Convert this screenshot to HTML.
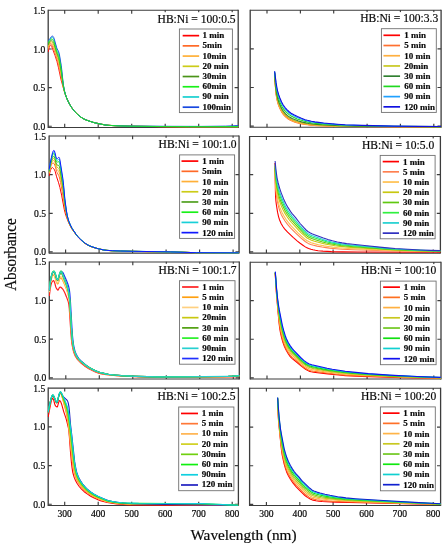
<!DOCTYPE html>
<html><head><meta charset="utf-8"><title>UV-vis absorbance spectra</title>
<style>html,body{margin:0;padding:0;background:#fff}svg{display:block}text{stroke:#0a0a0a;stroke-width:.2px}</style></head>
<body>
<svg width="448" height="550" viewBox="0 0 448 550" font-family="'Liberation Serif', serif">
<rect width="448" height="550" fill="#fff"/>
<g>
<clipPath id="c0"><rect x="47.7" y="10.1" width="191.1" height="117.9"/></clipPath>
<path d="M48.2,9.8V127.9M238.2,9.8V127.9" fill="none" stroke="#3c3c3c" stroke-width="1.3"/>
<path d="M48.2,10.3H238.2M48.2,127.4H238.2" fill="none" stroke="#3c3c3c" stroke-width="1.05"/>
<path d="M64.7,127.4v-3.6M64.7,10.1v3.6M98.2,127.4v-3.6M98.2,10.1v3.6M131.7,127.4v-3.6M131.7,10.1v3.6M165.2,127.4v-3.6M165.2,10.1v3.6M198.7,127.4v-3.6M198.7,10.1v3.6M232.2,127.4v-3.6M232.2,10.1v3.6M48.2,126.2h3.6M238.2,126.2h-3.6M48.2,87.6h3.6M238.2,87.6h-3.6M48.2,49.0h3.6M238.2,49.0h-3.6" stroke="#3c3c3c" stroke-width="1.15" fill="none"/>
<g clip-path="url(#c0)" fill="none" stroke-width="0.9" stroke-linejoin="round" stroke-linecap="butt">
<path d="M48.2,52.0L49.2,47.5L50.0,45.5L50.2,45.2L50.5,45.1L50.7,45.1L51.2,45.6L51.7,46.5L55.0,55.5L57.0,61.7L58.5,67.8L61.0,79.7L64.7,92.8L65.7,95.7L67.0,98.8L68.5,102.1L69.7,104.5L71.5,107.3L73.2,109.7L75.2,112.1L77.2,114.1L79.7,116.2L82.0,117.9L84.0,119.0L86.2,120.0L91.0,121.7L94.5,122.7L105.0,124.9L110.0,125.4L122.2,126.1L131.9,126.3L168.7,126.7L192.9,126.8L238.2,126.8" stroke="#ff0000"/>
<path d="M48.2,49.7L49.0,46.7L49.5,45.2L50.0,44.1L50.2,43.8L50.7,43.6L51.2,43.8L51.7,44.5L53.7,49.1L56.0,55.8L58.2,63.5L59.0,66.7L60.5,74.2L63.2,86.7L64.5,91.7L65.5,94.9L66.5,97.6L67.7,100.5L69.2,103.6L71.0,106.5L72.7,109.1L74.7,111.5L76.7,113.6L79.0,115.6L81.7,117.7L83.7,118.9L86.0,119.9L90.7,121.6L94.2,122.7L105.0,124.9L110.0,125.4L121.2,126.0L129.9,126.3L166.9,126.7L192.4,126.8L238.2,126.8" stroke="#ff6a28"/>
<path d="M48.2,48.0L49.0,45.4L49.5,44.0L50.0,43.1L50.2,42.8L50.7,42.5L51.2,42.5L51.7,43.0L52.7,44.7L53.7,46.9L55.5,52.1L58.0,60.2L58.7,62.9L61.5,76.6L63.5,87.4L64.5,91.6L65.5,94.8L66.5,97.6L67.7,100.5L69.0,103.1L70.5,105.7L72.5,108.7L74.5,111.2L76.5,113.4L78.7,115.4L81.5,117.5L83.5,118.8L85.7,119.8L90.5,121.5L94.2,122.7L104.7,124.9L106.5,125.1L109.7,125.4L120.2,126.0L129.7,126.3L165.2,126.6L191.7,126.7L238.2,126.7" stroke="#ffb038"/>
<path d="M48.2,46.3L49.0,44.1L49.7,42.4L50.2,41.7L51.0,41.2L51.5,41.3L52.2,42.0L53.2,43.6L54.0,45.4L56.7,54.3L58.2,58.6L59.0,61.4L61.5,74.4L63.5,87.0L64.5,91.4L65.2,94.0L66.2,96.9L67.5,100.0L68.7,102.6L70.2,105.3L72.2,108.4L74.0,110.7L76.2,113.1L78.5,115.2L81.2,117.3L83.2,118.6L85.5,119.7L90.2,121.4L94.2,122.7L104.7,124.9L109.5,125.4L119.2,125.9L129.4,126.2L163.4,126.6L190.9,126.7L238.2,126.7" stroke="#cccc18"/>
<path d="M48.2,44.9L49.0,43.0L49.7,41.6L50.5,40.6L51.2,40.1L51.5,40.1L52.0,40.4L52.7,41.1L53.5,42.4L54.0,43.6L56.7,52.7L58.5,57.4L59.0,59.3L61.2,71.2L63.2,85.1L64.2,90.3L65.0,93.1L66.0,96.2L67.2,99.4L68.5,102.1L70.0,104.9L72.0,108.0L73.7,110.4L76.0,112.9L78.0,114.8L80.7,117.0L83.0,118.5L85.2,119.6L89.0,121.0L94.0,122.6L96.2,123.1L104.5,124.9L106.0,125.1L109.0,125.4L118.0,125.8L129.2,126.2L160.9,126.5L190.2,126.7L238.2,126.7" stroke="#4a9418"/>
<path d="M48.2,41.7L49.5,39.9L51.0,38.0L51.5,37.5L52.0,37.3L52.5,37.3L53.0,37.6L53.2,37.9L53.7,38.8L54.2,40.3L56.7,49.0L57.2,50.3L58.2,52.2L58.7,53.5L59.5,56.8L61.2,66.9L63.2,84.1L64.0,88.7L64.7,92.0L65.7,95.4L67.0,98.8L68.2,101.6L69.7,104.5L71.7,107.7L73.5,110.0L75.7,112.6L77.7,114.6L80.5,116.8L82.7,118.3L85.0,119.5L87.5,120.5L91.5,121.9L94.2,122.7L96.5,123.2L105.5,125.0L109.2,125.4L114.7,125.7L128.2,126.2L154.7,126.4L187.7,126.6L238.2,126.6" stroke="#18d0d0"/>
<path d="M48.2,40.6L50.2,38.3L51.2,36.8L51.7,36.3L52.5,36.1L53.0,36.3L53.2,36.5L53.7,37.4L54.2,38.8L56.7,47.7L57.2,49.0L58.2,50.6L58.7,51.8L59.5,55.0L61.2,65.3L61.7,69.3L63.2,83.7L64.0,88.5L64.7,91.9L65.7,95.4L66.7,98.1L68.0,101.1L69.5,104.0L71.5,107.3L73.5,110.0L75.5,112.4L77.7,114.6L80.5,116.8L82.7,118.3L85.0,119.5L88.5,120.8L94.0,122.6L104.2,124.8L105.7,125.1L108.5,125.3L115.2,125.7L125.2,126.0L135.4,126.1L168.2,126.3L201.2,126.4L225.7,126.1L238.2,125.5" stroke="#1848e0"/>
<path d="M48.2,43.4L49.0,41.9L49.7,40.6L50.7,39.4L51.5,38.9L51.7,38.9L52.2,39.1L53.0,39.7L53.5,40.5L54.0,41.7L56.7,51.0L58.5,55.3L59.0,57.0L61.2,69.2L63.2,84.7L64.0,89.0L64.7,92.1L65.7,95.4L67.0,98.8L68.2,101.6L69.7,104.5L71.7,107.7L73.5,110.0L75.7,112.6L78.0,114.8L80.7,117.0L83.0,118.5L85.2,119.6L89.0,121.0L94.0,122.6L96.2,123.1L104.5,124.9L106.0,125.1L109.0,125.4L117.2,125.8L128.9,126.2L159.4,126.5L189.4,126.6L238.2,126.6" stroke="#18f018"/>
</g>
<text x="45.2" y="129.8" font-size="9.6" text-anchor="end" fill="#0a0a0a">0.0</text>
<text x="45.2" y="91.1" font-size="9.6" text-anchor="end" fill="#0a0a0a">0.5</text>
<text x="45.2" y="52.5" font-size="9.6" text-anchor="end" fill="#0a0a0a">1.0</text>
<text x="45.2" y="13.8" font-size="9.6" text-anchor="end" fill="#0a0a0a">1.5</text>
<rect x="156.3" y="12.2" width="80.3" height="14" fill="#fff"/>
<text x="235.6" y="22.7" font-size="11.55" text-anchor="end" fill="#0a0a0a">HB:Ni = 100:0.5</text>
<rect x="179.4" y="29.0" width="53.0" height="83.6" fill="#fff" stroke="#707070" stroke-width="0.9"/>
<path d="M182.65,35.65h16.5" stroke="#ff0000" stroke-width="1.7"/>
<text x="202.50" y="38.25" font-size="9" font-weight="bold" fill="#0a0a0a">1 min</text>
<path d="M182.65,45.87h16.5" stroke="#ff6a28" stroke-width="1.7"/>
<text x="202.50" y="48.45" font-size="9" font-weight="bold" fill="#0a0a0a">5min</text>
<path d="M182.65,56.09h16.5" stroke="#ffb038" stroke-width="1.7"/>
<text x="202.50" y="58.65" font-size="9" font-weight="bold" fill="#0a0a0a">10min</text>
<path d="M182.65,66.31h16.5" stroke="#cccc18" stroke-width="1.7"/>
<text x="202.50" y="68.85" font-size="9" font-weight="bold" fill="#0a0a0a">20 min</text>
<path d="M182.65,76.53h16.5" stroke="#4a9418" stroke-width="1.7"/>
<text x="202.50" y="79.05" font-size="9" font-weight="bold" fill="#0a0a0a">30min</text>
<path d="M182.65,86.75h16.5" stroke="#18f018" stroke-width="1.7"/>
<text x="202.50" y="89.25" font-size="9" font-weight="bold" fill="#0a0a0a">60min</text>
<path d="M182.65,96.97h16.5" stroke="#18d0d0" stroke-width="1.7"/>
<text x="202.50" y="99.45" font-size="9" font-weight="bold" fill="#0a0a0a">90 min</text>
<path d="M182.65,107.19h16.5" stroke="#1848e0" stroke-width="1.7"/>
<text x="202.50" y="109.65" font-size="9" font-weight="bold" fill="#0a0a0a">100min</text>
</g>
<g>
<clipPath id="c1"><rect x="48.6" y="135.75" width="191.1" height="117.9"/></clipPath>
<path d="M49.1,135.4V253.6M239.05,135.4V253.6" fill="none" stroke="#3c3c3c" stroke-width="1.3"/>
<path d="M49.1,135.9H239.05M49.1,253.1H239.05" fill="none" stroke="#3c3c3c" stroke-width="1.05"/>
<path d="M65.6,253.1v-3.6M65.6,135.75v3.6M99.1,253.1v-3.6M99.1,135.75v3.6M132.6,253.1v-3.6M132.6,135.75v3.6M166.1,253.1v-3.6M166.1,135.75v3.6M199.6,253.1v-3.6M199.6,135.75v3.6M233.1,253.1v-3.6M233.1,135.75v3.6M49.1,251.9h3.6M239.05,251.9h-3.6M49.1,213.3h3.6M239.05,213.3h-3.6M49.1,174.6h3.6M239.05,174.6h-3.6" stroke="#3c3c3c" stroke-width="1.15" fill="none"/>
<g clip-path="url(#c1)" fill="none" stroke-width="1.0" stroke-linejoin="round" stroke-linecap="butt">
<path d="M49.1,176.0L49.9,172.4L50.4,170.6L50.9,169.2L51.6,167.9L52.1,167.5L52.4,167.5L52.6,167.6L53.6,168.6L54.4,169.6L55.1,171.2L56.6,176.8L58.6,182.8L59.9,187.4L61.6,195.1L64.3,209.6L65.1,212.8L65.8,215.3L67.1,218.8L68.3,221.9L69.6,224.7L70.8,227.2L72.1,229.3L76.6,235.4L78.8,238.0L81.8,240.9L85.3,243.7L87.6,245.1L90.3,246.4L92.8,247.3L95.8,248.2L103.8,249.9L107.3,250.4L113.8,250.8L134.3,251.4L170.3,251.9L196.6,252.7L238.8,252.9" stroke="#ff0000"/>
<path d="M49.1,174.0L50.3,168.1L51.1,165.7L51.8,164.0L52.3,163.3L52.6,163.1L53.1,163.0L53.8,163.4L54.3,164.0L55.1,165.9L56.6,171.3L57.1,172.5L58.8,175.7L59.6,178.0L60.6,182.6L62.3,191.8L63.3,197.8L64.6,206.4L65.3,210.4L66.3,214.7L67.1,217.5L68.1,220.5L69.3,223.7L70.8,226.8L72.1,229.0L76.3,235.0L78.3,237.4L81.3,240.3L84.8,243.2L87.3,244.9L90.1,246.2L92.8,247.2L96.1,248.2L103.1,249.8L107.1,250.4L113.3,250.8L121.1,251.1L134.1,251.4L170.6,251.9L196.6,252.7L238.8,252.9" stroke="#ff6a28"/>
<path d="M49.1,173.1L50.4,166.9L51.1,164.2L51.9,162.1L52.4,161.1L52.6,160.8L53.1,160.5L53.6,160.5L53.9,160.6L54.4,161.2L54.9,162.4L56.1,167.1L56.6,168.6L57.1,169.5L58.4,171.0L58.9,171.8L59.4,173.0L59.9,174.9L62.6,189.7L63.4,194.6L64.6,204.2L65.6,210.0L67.1,216.9L68.1,220.2L69.1,222.8L70.9,226.6L72.1,228.9L76.4,234.9L78.1,237.0L81.1,240.1L84.6,243.0L87.1,244.7L89.9,246.1L92.6,247.1L96.1,248.2L98.6,248.8L102.9,249.8L107.1,250.4L113.1,250.8L121.1,251.1L134.1,251.4L170.6,251.9L196.6,252.7L238.9,252.9" stroke="#ffb038"/>
<path d="M49.1,172.3L49.9,168.2L50.6,164.8L51.4,162.2L52.1,160.0L52.6,159.0L52.9,158.7L53.4,158.3L53.9,158.4L54.4,158.9L54.9,160.2L56.1,165.0L56.6,166.4L57.1,167.2L58.4,168.1L58.9,168.6L59.4,169.7L59.9,171.5L61.9,182.5L62.9,188.5L64.8,204.2L65.8,210.2L66.6,214.1L67.3,217.3L68.1,219.9L69.1,222.6L70.8,226.5L72.1,228.8L76.3,234.8L77.8,236.7L80.8,239.8L84.3,242.7L87.1,244.7L89.8,246.0L92.6,247.1L96.3,248.2L98.6,248.8L102.6,249.7L106.8,250.4L113.1,250.8L121.1,251.1L134.1,251.4L170.6,251.9L196.6,252.7L238.8,252.9" stroke="#cccc18"/>
<path d="M49.1,171.6L49.9,167.4L50.6,163.9L51.4,161.0L52.1,158.6L52.6,157.4L53.1,156.6L53.4,156.4L53.6,156.3L53.9,156.3L54.1,156.5L54.4,156.9L54.9,158.2L56.1,163.0L56.6,164.4L57.1,165.0L58.4,165.4L58.9,165.7L59.4,166.6L59.9,168.5L62.9,186.0L63.6,191.8L64.8,202.7L66.1,210.7L66.8,214.7L67.3,216.9L68.1,219.6L69.1,222.4L70.6,225.8L72.1,228.7L76.3,234.8L77.8,236.7L80.8,239.8L84.3,242.7L87.1,244.6L89.6,245.9L92.1,246.9L96.1,248.2L98.6,248.8L101.8,249.6L106.6,250.4L112.6,250.8L120.6,251.0L133.8,251.4L170.6,251.9L196.3,252.7L238.8,252.9" stroke="#50a020"/>
<path d="M49.1,170.6L50.1,164.9L51.4,159.4L52.4,155.8L52.9,154.5L53.4,153.7L53.6,153.6L53.9,153.5L54.1,153.7L54.4,154.1L54.9,155.5L56.1,160.4L56.6,161.7L56.9,162.0L57.1,162.1L57.6,162.0L58.6,161.7L58.9,161.8L59.1,162.0L59.6,163.2L60.1,165.6L62.6,180.9L63.4,186.5L64.8,200.7L66.3,211.1L67.3,216.3L68.1,219.2L68.8,221.5L70.6,225.6L72.1,228.5L76.1,234.4L77.6,236.4L80.3,239.3L83.8,242.3L86.8,244.4L89.3,245.7L91.8,246.7L96.1,248.1L98.3,248.8L101.1,249.4L104.1,250.0L106.3,250.3L112.3,250.7L120.3,251.0L133.6,251.3L170.6,251.9L196.3,252.7L238.8,252.9" stroke="#18f018"/>
<path d="M49.1,170.0L50.1,164.2L51.4,158.4L52.6,153.7L53.1,152.5L53.4,152.2L53.6,151.9L53.9,151.9L54.1,152.0L54.4,152.4L54.9,153.9L55.9,158.0L56.4,159.5L56.6,160.0L56.9,160.3L57.1,160.3L57.6,160.1L58.6,159.4L58.9,159.4L59.1,159.5L59.4,160.0L59.6,160.7L60.1,163.2L62.9,180.6L63.6,186.9L64.8,199.5L66.3,210.5L67.3,216.0L68.1,219.0L68.8,221.3L70.3,224.9L72.1,228.4L76.1,234.4L77.6,236.3L80.3,239.2L83.8,242.2L86.8,244.4L89.3,245.7L91.8,246.7L96.1,248.1L98.3,248.8L101.1,249.4L104.1,250.0L106.3,250.3L112.3,250.7L120.3,251.0L133.6,251.3L170.6,251.9L196.3,252.7L238.8,252.9" stroke="#18d0d8"/>
<path d="M49.1,169.5L50.1,163.6L51.4,157.6L52.6,152.5L53.1,151.2L53.4,150.8L53.6,150.5L53.9,150.4L54.1,150.5L54.4,150.9L54.9,152.4L55.9,156.6L56.4,158.1L56.6,158.6L56.9,158.8L57.1,158.8L57.6,158.4L58.6,157.4L58.9,157.3L59.1,157.4L59.4,157.8L59.6,158.5L60.1,161.0L62.9,178.8L63.6,185.3L64.8,198.4L66.3,210.0L67.3,215.7L68.1,218.8L68.8,221.2L70.3,224.8L72.1,228.4L76.1,234.3L77.6,236.3L80.3,239.2L83.8,242.2L86.8,244.4L89.3,245.7L91.8,246.7L96.3,248.2L98.3,248.8L100.8,249.3L103.8,250.0L106.3,250.3L112.3,250.7L120.3,251.0L133.6,251.3L170.6,251.9L196.3,252.7L238.8,252.9" stroke="#1018ff"/>
</g>
<text x="46.1" y="255.4" font-size="9.6" text-anchor="end" fill="#0a0a0a">0.0</text>
<text x="46.1" y="216.8" font-size="9.6" text-anchor="end" fill="#0a0a0a">0.5</text>
<text x="46.1" y="178.1" font-size="9.6" text-anchor="end" fill="#0a0a0a">1.0</text>
<text x="46.1" y="139.5" font-size="9.6" text-anchor="end" fill="#0a0a0a">1.5</text>
<rect x="157.3" y="137.8" width="80.3" height="14" fill="#fff"/>
<text x="236.6" y="148.2" font-size="11.55" text-anchor="end" fill="#0a0a0a">HB:Ni = 100:1.0</text>
<rect x="179.6" y="154.9" width="55.0" height="83.5" fill="#fff" stroke="#707070" stroke-width="0.9"/>
<path d="M181.50,161.10h16.8" stroke="#ff0000" stroke-width="1.7"/>
<text x="202.25" y="164.15" font-size="9" font-weight="bold" fill="#0a0a0a">1 min</text>
<path d="M181.50,171.32h16.8" stroke="#ff6a28" stroke-width="1.7"/>
<text x="202.25" y="174.35" font-size="9" font-weight="bold" fill="#0a0a0a">5min</text>
<path d="M181.50,181.54h16.8" stroke="#ffb038" stroke-width="1.7"/>
<text x="202.25" y="184.55" font-size="9" font-weight="bold" fill="#0a0a0a">10 min</text>
<path d="M181.50,191.76h16.8" stroke="#cccc18" stroke-width="1.7"/>
<text x="202.25" y="194.75" font-size="9" font-weight="bold" fill="#0a0a0a">20 min</text>
<path d="M181.50,201.98h16.8" stroke="#50a020" stroke-width="1.7"/>
<text x="202.25" y="204.95" font-size="9" font-weight="bold" fill="#0a0a0a">30 min</text>
<path d="M181.50,212.20h16.8" stroke="#18f018" stroke-width="1.7"/>
<text x="202.25" y="215.15" font-size="9" font-weight="bold" fill="#0a0a0a">60 min</text>
<path d="M181.50,222.42h16.8" stroke="#18d0d8" stroke-width="1.7"/>
<text x="202.25" y="225.35" font-size="9" font-weight="bold" fill="#0a0a0a">90 min</text>
<path d="M181.50,232.64h16.8" stroke="#1018ff" stroke-width="1.7"/>
<text x="202.25" y="235.55" font-size="9" font-weight="bold" fill="#0a0a0a">120 min</text>
</g>
<g>
<clipPath id="c2"><rect x="48.8" y="261.7" width="191.1" height="117.8"/></clipPath>
<path d="M49.3,261.4V379.4M239.3,261.4V379.4" fill="none" stroke="#3c3c3c" stroke-width="1.3"/>
<path d="M49.3,261.9H239.3M49.3,378.9H239.3" fill="none" stroke="#3c3c3c" stroke-width="1.05"/>
<path d="M65.8,378.9v-3.6M65.8,261.7v3.6M99.3,378.9v-3.6M99.3,261.7v3.6M132.8,378.9v-3.6M132.8,261.7v3.6M166.3,378.9v-3.6M166.3,261.7v3.6M199.8,378.9v-3.6M199.8,261.7v3.6M233.3,378.9v-3.6M233.3,261.7v3.6M49.3,377.8h3.6M239.3,377.8h-3.6M49.3,339.1h3.6M239.3,339.1h-3.6M49.3,300.4h3.6M239.3,300.4h-3.6" stroke="#3c3c3c" stroke-width="1.15" fill="none"/>
<g clip-path="url(#c2)" fill="none" stroke-width="1.2" stroke-linejoin="round" stroke-linecap="butt">
<path d="M49.3,296.0L50.3,288.3L51.0,284.8L51.5,283.1L52.0,282.0L52.8,281.0L53.3,280.6L53.5,280.6L53.8,280.7L54.3,281.7L54.8,283.2L55.8,287.0L56.3,288.1L57.5,289.9L57.8,290.1L58.0,290.1L58.3,289.8L59.3,287.7L59.8,287.2L60.3,287.0L60.8,287.2L62.0,288.3L62.8,289.1L63.5,290.2L64.8,292.7L66.5,296.9L68.3,301.9L68.8,304.2L69.3,308.8L70.8,331.4L71.5,340.0L72.0,344.1L72.8,348.4L73.5,351.3L74.5,354.2L75.5,356.4L77.0,358.8L78.8,360.9L81.0,363.0L84.5,365.9L87.8,368.1L91.3,370.0L95.3,371.9L98.0,372.9L100.5,373.6L104.5,374.4L109.0,375.0L116.3,375.7L123.3,376.2L140.8,376.9L157.3,377.3L175.6,377.3L228.6,376.9L232.8,376.8L239.3,376.4" stroke="#ff2020"/>
<path d="M49.3,292.5L50.0,286.1L50.5,282.9L51.0,280.4L51.5,278.5L52.0,277.0L52.5,276.0L53.0,275.4L53.5,275.1L53.8,275.1L54.3,275.6L54.8,276.8L56.3,281.7L57.0,283.2L57.5,283.8L57.8,283.8L58.0,283.6L58.3,283.1L59.5,279.5L60.3,278.2L60.5,278.0L60.8,277.9L61.0,278.0L61.5,278.4L62.3,279.6L64.8,285.1L66.5,289.4L68.0,294.1L68.8,297.4L69.3,301.2L69.8,306.7L71.3,330.6L72.0,339.4L72.5,343.5L73.3,347.9L74.0,350.9L74.8,353.2L75.8,355.5L77.0,357.7L78.8,359.9L80.8,361.9L84.8,365.1L87.8,367.2L90.8,369.0L95.3,371.2L98.0,372.3L100.8,373.1L104.8,374.0L108.8,374.6L115.5,375.3L122.3,375.9L128.1,376.2L138.6,376.6L157.6,377.0L180.1,376.9L228.6,376.6L232.8,376.4L239.3,375.9" stroke="#ffa010"/>
<path d="M49.3,292.0L50.0,285.6L50.8,281.0L51.3,278.7L51.8,277.0L52.3,275.7L52.8,274.9L53.3,274.4L53.5,274.3L53.8,274.3L54.0,274.5L54.3,274.8L55.0,276.6L56.3,280.8L57.0,282.4L57.5,282.9L57.8,282.9L58.0,282.6L58.3,282.2L59.5,278.4L60.3,277.0L60.5,276.7L60.8,276.6L61.0,276.7L61.5,277.1L62.0,277.9L62.8,279.4L64.8,284.0L66.5,288.4L68.0,293.1L68.8,296.5L69.3,300.1L69.8,305.4L71.3,329.6L72.0,338.7L72.5,343.0L73.3,347.5L74.0,350.6L74.8,352.9L75.8,355.3L77.0,357.5L78.8,359.8L80.8,361.8L84.8,365.0L88.0,367.3L91.0,369.0L95.3,371.1L98.0,372.2L100.8,373.0L104.8,373.9L108.8,374.6L115.5,375.3L122.3,375.8L127.8,376.1L138.3,376.5L157.6,376.9L181.1,376.9L228.6,376.5L232.8,376.3L239.3,375.9" stroke="#ffd080"/>
<path d="M49.3,290.7L50.0,284.1L50.8,279.4L51.8,275.2L52.3,273.8L52.8,272.9L53.3,272.4L53.8,272.2L54.0,272.3L54.3,272.5L54.5,272.9L55.3,274.9L56.5,279.1L57.0,280.1L57.3,280.4L57.5,280.6L57.8,280.5L58.3,279.6L59.5,275.4L60.3,273.6L60.8,273.1L61.0,273.1L61.3,273.3L61.8,274.0L62.5,275.5L65.5,282.9L66.8,286.3L68.0,290.5L68.5,292.6L69.0,295.4L69.5,299.3L70.0,305.0L71.3,327.0L71.8,334.1L72.3,339.5L72.8,343.5L73.3,346.5L74.0,349.9L74.8,352.3L75.8,354.8L77.0,357.1L78.5,359.1L80.5,361.2L84.5,364.5L87.8,366.8L90.8,368.6L95.0,370.7L97.8,371.8L100.5,372.7L104.5,373.7L108.3,374.4L114.5,375.1L121.3,375.6L127.3,376.0L136.3,376.3L147.3,376.7L156.8,376.8L180.6,376.8L228.3,376.4L232.6,376.2L239.3,375.7" stroke="#c8c810"/>
<path d="M49.3,290.5L50.0,283.8L50.8,279.0L51.8,274.7L52.3,273.2L52.8,272.3L53.3,271.8L53.8,271.5L54.0,271.6L54.3,271.8L54.5,272.1L55.3,274.0L56.5,278.3L57.0,279.3L57.3,279.6L57.5,279.7L57.8,279.6L58.3,278.7L59.8,273.5L60.5,271.7L60.8,271.4L61.0,271.3L61.5,271.4L62.5,272.2L63.3,273.2L66.5,280.5L67.5,283.0L68.5,286.0L69.3,289.4L69.8,293.4L70.3,299.3L71.8,325.6L72.5,336.0L73.0,340.8L73.5,344.5L74.3,348.5L75.0,351.2L76.0,353.9L77.3,356.4L78.8,358.6L80.5,360.5L85.5,364.7L88.5,367.0L91.0,368.6L95.0,370.6L98.0,371.8L100.8,372.7L104.8,373.7L108.5,374.3L114.8,375.0L121.3,375.6L127.0,375.9L136.1,376.3L147.3,376.6L157.1,376.8L182.1,376.7L215.3,376.5L228.3,376.3L232.6,376.1L239.3,375.6" stroke="#2030ff"/>
<path d="M49.3,290.4L50.0,283.8L50.8,279.0L51.8,274.8L52.3,273.3L52.8,272.5L53.3,271.9L53.8,271.7L54.0,271.8L54.3,272.0L54.5,272.4L55.3,274.3L56.5,278.5L57.0,279.6L57.3,279.9L57.5,280.1L57.8,280.0L58.3,279.1L59.5,274.8L60.3,272.9L60.8,272.3L61.0,272.3L61.3,272.5L61.8,273.2L62.5,274.8L63.8,278.1L65.3,281.7L67.0,286.4L68.3,290.9L69.0,294.8L69.5,298.6L70.0,304.1L71.3,326.4L71.8,333.6L72.3,339.1L72.8,343.2L73.3,346.3L74.0,349.7L74.8,352.1L75.8,354.7L77.0,357.0L78.5,359.0L80.5,361.1L84.5,364.4L87.8,366.7L90.8,368.5L95.0,370.6L97.8,371.8L100.5,372.7L104.5,373.7L108.3,374.3L114.5,375.0L121.3,375.6L127.0,376.0L136.1,376.3L147.1,376.6L156.8,376.8L180.8,376.8L228.3,376.4L232.6,376.2L239.3,375.7" stroke="#50a010"/>
<path d="M49.3,290.0L50.0,283.3L50.8,278.5L51.8,274.2L52.3,272.7L52.8,271.8L53.3,271.3L53.8,271.0L54.0,271.1L54.3,271.3L54.5,271.6L55.3,273.5L56.5,277.8L57.0,278.9L57.3,279.2L57.5,279.3L57.8,279.2L58.3,278.2L59.5,273.8L60.3,271.8L60.8,271.2L61.0,271.1L61.3,271.3L61.8,272.1L62.5,273.7L63.8,277.1L65.5,281.4L67.0,285.5L68.3,290.1L69.0,293.9L69.5,297.5L70.0,302.9L71.3,325.5L71.8,333.0L72.3,338.6L72.8,342.8L73.3,346.0L74.0,349.5L74.8,351.9L75.8,354.5L77.0,356.8L78.5,358.9L80.5,361.0L84.8,364.5L88.0,366.8L90.8,368.4L95.0,370.5L98.0,371.8L100.8,372.7L104.8,373.7L108.3,374.3L114.5,375.0L121.0,375.6L127.0,375.9L135.8,376.3L147.1,376.6L156.8,376.8L181.6,376.7L215.1,376.5L228.3,376.3L232.6,376.1L239.3,375.6" stroke="#28f028"/>
<path d="M49.3,290.2L50.0,283.6L50.8,278.8L51.8,274.5L52.3,273.1L52.8,272.2L53.3,271.7L53.8,271.4L54.0,271.5L54.3,271.7L54.5,272.1L55.3,273.9L56.5,278.2L57.0,279.3L57.3,279.6L57.5,279.7L57.8,279.6L58.3,278.7L59.5,274.4L60.3,272.4L60.8,271.8L61.0,271.8L61.3,272.0L61.8,272.7L62.5,274.3L63.8,277.7L65.5,281.9L67.0,286.0L68.3,290.5L69.0,294.4L69.5,298.1L70.0,303.6L71.3,326.0L71.8,333.3L72.3,338.9L72.8,343.0L73.3,346.2L74.0,349.6L74.8,352.0L75.8,354.6L77.0,356.9L78.5,359.0L80.5,361.1L84.8,364.5L88.0,366.9L90.8,368.5L95.0,370.6L98.0,371.8L100.8,372.7L104.8,373.7L108.3,374.3L114.5,375.0L121.0,375.6L127.0,375.9L135.8,376.3L147.1,376.6L156.8,376.8L180.8,376.8L228.3,376.3L232.6,376.2L239.3,375.6" stroke="#28d0d0"/>
</g>
<text x="46.3" y="381.2" font-size="9.6" text-anchor="end" fill="#0a0a0a">0.0</text>
<text x="46.3" y="342.6" font-size="9.6" text-anchor="end" fill="#0a0a0a">0.5</text>
<text x="46.3" y="303.9" font-size="9.6" text-anchor="end" fill="#0a0a0a">1.0</text>
<text x="46.3" y="265.3" font-size="9.6" text-anchor="end" fill="#0a0a0a">1.5</text>
<rect x="157.3" y="263.8" width="80.3" height="14" fill="#fff"/>
<text x="236.6" y="273.8" font-size="11.55" text-anchor="end" fill="#0a0a0a">HB:Ni = 100:1.7</text>
<rect x="179.5" y="280.7" width="55.5" height="83.5" fill="#fff" stroke="#707070" stroke-width="0.9"/>
<path d="M182.10,287.00h16.4" stroke="#ff2020" stroke-width="1.7"/>
<text x="202.20" y="289.75" font-size="9" font-weight="bold" fill="#0a0a0a">1 min</text>
<path d="M182.10,297.22h16.4" stroke="#ffa010" stroke-width="1.7"/>
<text x="202.20" y="299.95" font-size="9" font-weight="bold" fill="#0a0a0a">5 min</text>
<path d="M182.10,307.44h16.4" stroke="#ffd080" stroke-width="1.7"/>
<text x="202.20" y="310.15" font-size="9" font-weight="bold" fill="#0a0a0a">10 min</text>
<path d="M182.10,317.66h16.4" stroke="#c8c810" stroke-width="1.7"/>
<text x="202.20" y="320.35" font-size="9" font-weight="bold" fill="#0a0a0a">20min</text>
<path d="M182.10,327.88h16.4" stroke="#50a010" stroke-width="1.7"/>
<text x="202.20" y="330.55" font-size="9" font-weight="bold" fill="#0a0a0a">30 min</text>
<path d="M182.10,338.10h16.4" stroke="#28f028" stroke-width="1.7"/>
<text x="202.20" y="340.75" font-size="9" font-weight="bold" fill="#0a0a0a">60 min</text>
<path d="M182.10,348.32h16.4" stroke="#28d0d0" stroke-width="1.7"/>
<text x="202.20" y="350.95" font-size="9" font-weight="bold" fill="#0a0a0a">90min</text>
<path d="M182.10,358.54h16.4" stroke="#2030ff" stroke-width="1.7"/>
<text x="202.20" y="361.15" font-size="9" font-weight="bold" fill="#0a0a0a">120 min</text>
</g>
<g>
<clipPath id="c3"><rect x="47.7" y="387.9" width="191.3" height="118.1"/></clipPath>
<path d="M48.2,387.6V505.9M238.4,387.6V505.9" fill="none" stroke="#3c3c3c" stroke-width="1.3"/>
<path d="M48.2,388.1H238.4M48.2,505.4H238.4" fill="none" stroke="#3c3c3c" stroke-width="1.05"/>
<path d="M64.7,505.4v-3.6M64.7,387.9v3.6M98.2,505.4v-3.6M98.2,387.9v3.6M131.7,505.4v-3.6M131.7,387.9v3.6M165.2,505.4v-3.6M165.2,387.9v3.6M198.7,505.4v-3.6M198.7,387.9v3.6M232.2,505.4v-3.6M232.2,387.9v3.6M48.2,504.2h3.6M238.4,504.2h-3.6M48.2,465.6h3.6M238.4,465.6h-3.6M48.2,426.9h3.6M238.4,426.9h-3.6" stroke="#3c3c3c" stroke-width="1.15" fill="none"/>
<g clip-path="url(#c3)" fill="none" stroke-width="1.1" stroke-linejoin="round" stroke-linecap="butt">
<path d="M48.2,417.0L49.5,409.8L51.0,402.4L51.5,400.4L51.7,399.7L52.2,398.7L52.5,398.5L52.7,398.4L53.0,398.6L53.2,399.0L53.7,400.2L54.7,404.0L55.2,405.4L55.7,406.1L57.0,407.0L57.2,407.0L57.5,406.6L58.7,402.2L59.2,401.0L59.5,400.7L59.7,400.6L60.0,400.8L60.7,401.8L61.7,404.4L63.7,411.6L66.0,418.4L67.0,422.1L68.5,428.4L69.0,431.8L69.2,434.4L70.5,452.2L71.5,463.4L72.0,467.4L72.7,472.0L73.5,475.1L74.2,477.4L75.5,480.5L77.0,483.3L79.2,486.5L81.5,489.1L84.2,491.7L87.5,494.1L90.7,496.2L94.2,498.0L98.0,499.7L101.2,500.9L104.2,501.8L107.2,502.5L111.7,503.3L116.5,503.9L123.7,504.5L129.2,504.9L133.9,505.0L165.4,505.2L238.2,505.3" stroke="#ff0000"/>
<path d="M48.2,413.0L49.5,406.2L50.5,401.7L51.5,398.0L52.2,396.5L52.7,396.0L53.0,396.0L53.5,396.5L54.0,397.4L56.0,402.1L56.5,402.9L56.7,403.0L57.0,402.9L57.2,402.6L57.5,401.9L58.7,396.8L59.5,394.3L60.0,393.4L60.2,393.3L60.5,393.3L61.0,394.0L61.5,395.1L62.2,397.4L65.2,408.6L66.2,412.6L67.0,416.4L68.0,422.7L68.7,428.5L71.2,452.5L72.2,461.0L73.0,465.9L73.7,469.9L74.5,473.3L75.2,476.0L76.5,479.4L77.7,481.8L80.0,485.2L82.5,488.3L85.0,490.7L88.5,493.5L91.5,495.5L94.7,497.2L98.2,498.8L101.5,500.1L105.0,501.3L108.0,502.1L112.2,502.8L117.5,503.4L121.7,503.8L127.2,504.2L131.9,504.4L136.4,504.5L200.7,504.7L238.2,505.3" stroke="#ff7838"/>
<path d="M48.2,412.9L49.5,406.1L50.5,401.6L51.5,397.9L52.2,396.3L52.7,395.8L53.0,395.8L53.5,396.3L54.0,397.2L56.0,402.0L56.5,402.7L56.7,402.9L57.0,402.8L57.2,402.5L57.5,401.8L58.7,396.6L59.5,394.1L60.0,393.2L60.2,393.1L60.5,393.1L61.0,393.7L61.5,394.8L62.2,397.0L65.5,408.4L66.5,412.4L67.2,416.2L68.0,420.8L68.7,426.3L71.5,451.8L72.7,461.7L74.2,470.5L75.0,473.7L75.7,476.2L77.0,479.5L78.5,482.2L80.7,485.6L83.0,488.3L85.7,490.8L89.0,493.4L92.0,495.3L95.2,497.1L98.5,498.6L101.7,499.9L105.2,501.1L108.0,501.8L112.0,502.5L116.7,503.2L121.2,503.6L126.0,503.9L131.9,504.2L137.9,504.3L202.2,504.6L238.2,505.3" stroke="#ffb450"/>
<path d="M48.2,412.6L49.5,405.8L50.5,401.3L51.5,397.6L52.2,396.0L52.7,395.6L53.0,395.6L53.5,396.0L54.0,397.0L56.0,401.7L56.5,402.5L56.7,402.7L57.0,402.6L57.2,402.2L57.5,401.6L58.7,396.3L59.5,393.8L60.0,392.9L60.2,392.7L60.5,392.7L61.0,393.2L61.5,394.2L62.0,395.5L65.5,406.5L66.5,410.1L67.5,414.7L68.2,419.1L69.0,424.6L72.0,451.1L73.2,461.0L74.0,466.0L74.7,470.2L75.5,473.3L76.2,475.8L77.5,479.0L79.2,482.2L81.2,485.1L83.5,487.8L86.2,490.4L89.2,492.8L92.5,495.0L96.2,496.9L99.2,498.3L102.2,499.5L105.7,500.8L108.2,501.5L111.7,502.2L115.7,502.8L119.7,503.2L123.5,503.5L131.2,503.9L137.9,504.0L202.2,504.3L238.2,505.2" stroke="#d0d020"/>
<path d="M48.2,412.3L49.5,405.6L50.5,401.1L51.5,397.4L52.2,395.8L52.7,395.3L53.0,395.3L53.5,395.8L54.0,396.7L56.0,401.5L56.5,402.3L56.7,402.5L57.0,402.4L57.2,402.0L57.5,401.3L59.0,395.1L59.7,393.0L60.2,392.4L60.5,392.3L60.7,392.5L61.2,393.1L62.2,395.5L66.0,406.1L67.0,409.6L68.0,414.2L68.7,418.9L69.2,422.8L72.7,452.9L74.0,462.8L74.5,466.1L75.2,470.0L76.0,473.1L76.7,475.6L78.2,479.1L80.0,482.2L82.0,485.0L84.5,487.9L87.2,490.5L90.0,492.7L93.2,494.7L97.0,496.7L100.0,498.1L103.7,499.6L106.2,500.6L108.2,501.2L111.5,501.8L115.5,502.4L119.2,502.9L123.0,503.2L131.2,503.6L138.2,503.7L201.9,504.0L229.9,505.0L238.2,505.2" stroke="#70d010"/>
<path d="M48.2,412.5L49.5,405.7L51.0,399.2L51.7,396.9L52.2,395.9L52.7,395.4L53.0,395.4L53.2,395.6L53.7,396.4L56.2,402.2L56.5,402.5L56.7,402.7L57.0,402.6L57.2,402.3L57.5,401.6L58.7,396.2L59.5,393.5L59.7,393.0L60.2,392.3L60.5,392.2L60.7,392.3L61.2,392.9L62.7,395.8L63.5,396.9L66.2,399.3L67.0,400.2L67.5,400.9L68.0,402.1L68.2,402.9L68.7,405.4L69.0,407.1L69.5,412.1L70.5,424.2L71.7,434.2L74.0,455.6L74.7,461.9L75.2,465.1L76.0,469.1L76.5,471.3L77.2,473.8L78.7,477.6L80.5,480.8L82.7,484.1L85.5,487.4L88.0,489.8L90.7,492.0L94.2,494.2L98.2,496.4L105.5,499.6L107.5,500.3L109.2,500.9L113.5,501.7L117.7,502.4L121.7,502.8L126.5,503.2L133.2,503.6L143.4,503.9L165.9,504.5L206.2,505.0L238.2,505.2" stroke="#2020c0"/>
<path d="M48.2,412.1L49.5,405.3L50.5,400.8L51.5,397.1L52.2,395.5L52.7,395.0L53.0,395.0L53.5,395.5L54.0,396.5L56.0,401.3L56.5,402.1L56.7,402.3L57.0,402.2L57.2,401.8L57.5,401.1L58.7,395.8L59.5,393.2L60.0,392.3L60.2,392.0L60.5,391.9L60.7,392.0L61.2,392.6L62.2,394.8L66.2,404.6L67.2,407.8L68.2,412.2L69.0,417.0L70.2,427.3L71.2,434.5L73.5,455.3L74.5,463.4L75.0,466.4L75.7,470.1L76.2,472.2L77.0,474.6L78.5,478.2L80.2,481.4L82.5,484.6L85.0,487.5L87.5,489.9L90.2,492.1L93.7,494.4L97.5,496.4L100.5,497.8L105.0,499.7L107.0,500.4L108.5,500.9L112.0,501.6L115.7,502.2L119.2,502.6L122.7,502.9L130.9,503.2L138.7,503.4L201.9,503.7L216.2,504.2L229.9,504.9L238.2,505.2" stroke="#10f010"/>
<path d="M48.2,412.0L49.5,405.2L50.5,400.7L51.5,397.0L52.2,395.4L52.7,394.9L53.0,394.9L53.5,395.4L54.0,396.4L56.0,401.2L56.5,402.0L56.7,402.2L57.0,402.1L57.2,401.8L57.5,401.1L58.7,395.7L59.5,393.1L60.0,392.2L60.2,391.9L60.5,391.8L60.7,391.9L61.2,392.4L62.0,393.9L65.0,400.7L66.5,404.4L67.5,407.5L68.2,410.9L69.0,415.4L70.2,425.6L71.2,432.4L73.7,456.1L74.5,462.2L75.0,465.4L75.7,469.3L76.2,471.5L77.0,474.0L78.5,477.7L80.2,480.9L82.5,484.2L85.2,487.4L87.7,489.8L90.5,492.0L94.0,494.3L97.7,496.3L105.0,499.5L107.0,500.3L108.5,500.7L111.7,501.4L115.5,502.0L119.0,502.4L122.5,502.7L130.9,503.1L138.7,503.3L201.9,503.5L216.2,504.2L229.9,504.9L238.2,505.2" stroke="#10d0e0"/>
</g>
<text x="45.2" y="507.8" font-size="9.6" text-anchor="end" fill="#0a0a0a">0.0</text>
<text x="45.2" y="469.1" font-size="9.6" text-anchor="end" fill="#0a0a0a">0.5</text>
<text x="45.2" y="430.4" font-size="9.6" text-anchor="end" fill="#0a0a0a">1.0</text>
<text x="45.2" y="391.8" font-size="9.6" text-anchor="end" fill="#0a0a0a">1.5</text>
<text x="64.7" y="517.3" font-size="9.6" text-anchor="middle" fill="#0a0a0a">300</text>
<text x="98.2" y="517.3" font-size="9.6" text-anchor="middle" fill="#0a0a0a">400</text>
<text x="131.7" y="517.3" font-size="9.6" text-anchor="middle" fill="#0a0a0a">500</text>
<text x="165.2" y="517.3" font-size="9.6" text-anchor="middle" fill="#0a0a0a">600</text>
<text x="198.7" y="517.3" font-size="9.6" text-anchor="middle" fill="#0a0a0a">700</text>
<text x="232.2" y="517.3" font-size="9.6" text-anchor="middle" fill="#0a0a0a">800</text>
<rect x="156.3" y="390.0" width="80.3" height="14" fill="#fff"/>
<text x="235.6" y="400.4" font-size="11.55" text-anchor="end" fill="#0a0a0a">HB:Ni = 100:2.5</text>
<rect x="178.7" y="407.0" width="55.2" height="83.7" fill="#fff" stroke="#707070" stroke-width="0.9"/>
<path d="M181.00,413.45h17.0" stroke="#ff0000" stroke-width="1.7"/>
<text x="201.80" y="416.05" font-size="9" font-weight="bold" fill="#0a0a0a">1 min</text>
<path d="M181.00,423.67h17.0" stroke="#ff7838" stroke-width="1.7"/>
<text x="201.80" y="426.25" font-size="9" font-weight="bold" fill="#0a0a0a">5 min</text>
<path d="M181.00,433.89h17.0" stroke="#ffb450" stroke-width="1.7"/>
<text x="201.80" y="436.45" font-size="9" font-weight="bold" fill="#0a0a0a">10 min</text>
<path d="M181.00,444.11h17.0" stroke="#d0d020" stroke-width="1.7"/>
<text x="201.80" y="446.65" font-size="9" font-weight="bold" fill="#0a0a0a">20 min</text>
<path d="M181.00,454.33h17.0" stroke="#70d010" stroke-width="1.7"/>
<text x="201.80" y="456.85" font-size="9" font-weight="bold" fill="#0a0a0a">30min</text>
<path d="M181.00,464.55h17.0" stroke="#10f010" stroke-width="1.7"/>
<text x="201.80" y="467.05" font-size="9" font-weight="bold" fill="#0a0a0a">60 min</text>
<path d="M181.00,474.77h17.0" stroke="#10d0e0" stroke-width="1.7"/>
<text x="201.80" y="477.25" font-size="9" font-weight="bold" fill="#0a0a0a">90min</text>
<path d="M181.00,484.99h17.0" stroke="#2020c0" stroke-width="1.7"/>
<text x="201.80" y="487.45" font-size="9" font-weight="bold" fill="#0a0a0a">120 min</text>
</g>
<g>
<clipPath id="c4"><rect x="249.7" y="10.0" width="192.0" height="117.9"/></clipPath>
<path d="M250.2,9.7V127.8M441.1,9.7V127.8" fill="none" stroke="#3c3c3c" stroke-width="1.3"/>
<path d="M250.2,10.2H441.1M250.2,127.3H441.1" fill="none" stroke="#3c3c3c" stroke-width="1.05"/>
<path d="M267.0,127.3v-3.6M267.0,10.0v3.6M300.4,127.3v-3.6M300.4,10.0v3.6M333.7,127.3v-3.6M333.7,10.0v3.6M367.1,127.3v-3.6M367.1,10.0v3.6M400.4,127.3v-3.6M400.4,10.0v3.6M433.8,127.3v-3.6M433.8,10.0v3.6M250.2,126.1h3.6M441.1,126.1h-3.6M250.2,87.5h3.6M441.1,87.5h-3.6M250.2,48.8h3.6M441.1,48.8h-3.6" stroke="#3c3c3c" stroke-width="1.15" fill="none"/>
<g clip-path="url(#c4)" fill="none" stroke-width="1.1" stroke-linejoin="round" stroke-linecap="butt">
<path d="M274.6,73.3L275.4,85.7L275.9,91.2L276.4,95.0L276.9,98.0L277.6,101.2L278.6,104.4L279.6,106.9L281.1,110.1L282.6,112.6L283.9,114.2L285.9,116.3L287.9,117.9L290.1,119.4L292.9,120.7L295.6,121.7L298.9,122.7L302.6,123.5L306.1,124.2L309.4,124.6L317.6,125.3L333.4,126.0L344.6,126.3L367.9,126.5L400.4,126.7L441.1,126.8" stroke="#ff0000"/>
<path d="M274.6,73.5L275.4,86.6L276.1,94.4L276.6,97.8L277.4,101.4L278.1,104.1L279.1,106.8L280.6,110.1L282.1,112.8L283.4,114.6L285.1,116.5L287.1,118.2L289.4,119.7L292.1,121.1L294.9,122.2L297.6,122.9L300.6,123.6L304.9,124.5L307.6,124.8L312.1,125.3L316.6,125.6L331.1,126.2L342.9,126.5L361.4,126.6L441.1,126.8" stroke="#ff7030"/>
<path d="M274.6,73.4L275.4,86.1L275.9,91.6L276.4,95.5L276.9,98.4L277.6,101.7L278.4,104.2L279.4,106.8L280.9,110.0L282.4,112.6L283.6,114.3L285.4,116.2L287.4,117.9L289.6,119.4L292.4,120.8L295.4,121.9L298.4,122.8L301.9,123.6L305.9,124.3L308.9,124.7L317.4,125.5L332.6,126.1L344.1,126.4L366.1,126.5L400.6,126.7L441.1,126.8" stroke="#ffb040"/>
<path d="M274.6,73.0L275.1,81.2L275.6,87.5L276.1,91.9L276.6,95.2L277.4,98.9L278.1,101.6L279.1,104.4L280.1,106.8L281.6,109.8L283.1,112.2L284.6,114.0L286.6,115.9L288.6,117.5L291.1,119.0L293.6,120.2L296.6,121.3L300.4,122.3L304.9,123.4L307.1,123.8L311.4,124.3L315.6,124.8L319.9,125.1L336.4,125.9L346.9,126.1L377.4,126.5L404.6,126.6L441.1,126.7" stroke="#c8c820"/>
<path d="M274.6,72.7L275.1,80.2L275.6,86.0L276.1,90.3L276.9,94.9L277.6,98.2L278.4,100.8L279.4,103.5L280.9,106.9L282.4,109.7L283.6,111.5L285.6,113.8L287.6,115.6L289.6,117.1L292.1,118.5L294.6,119.6L297.9,120.8L301.6,121.9L305.9,122.9L309.1,123.5L313.1,124.0L317.1,124.4L322.1,124.8L339.4,125.7L355.6,126.1L389.4,126.5L441.1,126.7" stroke="#308030"/>
<path d="M274.6,72.1L275.6,83.3L276.4,89.0L277.1,93.1L278.1,97.1L279.1,100.1L280.6,103.7L282.1,106.7L283.6,109.1L285.4,111.3L287.4,113.2L289.4,114.9L291.6,116.3L294.1,117.6L297.1,118.9L300.6,120.1L304.4,121.3L306.9,121.9L311.1,122.7L315.6,123.4L324.1,124.1L342.6,125.3L359.9,125.8L392.9,126.3L441.1,126.6" stroke="#20d820"/>
<path d="M274.6,71.5L275.9,82.9L276.6,87.8L277.4,91.6L278.4,95.3L279.6,98.9L281.4,103.0L282.9,105.8L284.4,108.0L286.4,110.3L288.4,112.2L290.6,114.0L293.4,115.6L296.6,117.2L299.9,118.6L304.1,120.1L306.6,120.8L310.1,121.6L313.9,122.3L317.9,122.8L325.9,123.6L338.4,124.6L344.6,125.0L361.6,125.5L393.9,126.2L419.6,126.5L441.1,126.5" stroke="#20a0ff"/>
<path d="M274.6,71.2L276.1,82.9L276.9,87.5L277.6,90.9L278.6,94.4L279.9,98.0L281.6,102.0L283.1,104.8L284.9,107.3L286.9,109.6L288.9,111.5L291.1,113.2L293.9,114.8L297.4,116.6L300.9,118.1L305.1,119.7L307.4,120.3L311.4,121.2L314.9,121.9L318.6,122.4L323.6,123.0L336.9,124.2L345.4,124.8L362.1,125.4L394.1,126.1L419.9,126.4L441.1,126.5" stroke="#1010e0"/>
</g>
<rect x="358.9" y="12.1" width="80.3" height="14" fill="#fff"/>
<text x="438.2" y="22.2" font-size="11.55" text-anchor="end" fill="#0a0a0a">HB:Ni = 100:3.3</text>
<rect x="381.4" y="28.7" width="54.9" height="83.7" fill="#fff" stroke="#707070" stroke-width="0.9"/>
<path d="M383.45,35.30h16.6" stroke="#ff0000" stroke-width="1.7"/>
<text x="404.27" y="38.15" font-size="9" font-weight="bold" fill="#0a0a0a">1 min</text>
<path d="M383.45,45.52h16.6" stroke="#ff7030" stroke-width="1.7"/>
<text x="404.27" y="48.35" font-size="9" font-weight="bold" fill="#0a0a0a">5 min</text>
<path d="M383.45,55.74h16.6" stroke="#ffb040" stroke-width="1.7"/>
<text x="404.27" y="58.55" font-size="9" font-weight="bold" fill="#0a0a0a">10 min</text>
<path d="M383.45,65.96h16.6" stroke="#c8c820" stroke-width="1.7"/>
<text x="404.27" y="68.75" font-size="9" font-weight="bold" fill="#0a0a0a">20min</text>
<path d="M383.45,76.18h16.6" stroke="#308030" stroke-width="1.7"/>
<text x="404.27" y="78.95" font-size="9" font-weight="bold" fill="#0a0a0a">30 min</text>
<path d="M383.45,86.40h16.6" stroke="#20d820" stroke-width="1.7"/>
<text x="404.27" y="89.15" font-size="9" font-weight="bold" fill="#0a0a0a">60 min</text>
<path d="M383.45,96.62h16.6" stroke="#20a0ff" stroke-width="1.7"/>
<text x="404.27" y="99.35" font-size="9" font-weight="bold" fill="#0a0a0a">90 min</text>
<path d="M383.45,106.84h16.6" stroke="#1010e0" stroke-width="1.7"/>
<text x="404.27" y="109.55" font-size="9" font-weight="bold" fill="#0a0a0a">120 min</text>
</g>
<g>
<clipPath id="c5"><rect x="249.1" y="136.3" width="191.9" height="117.4"/></clipPath>
<path d="M249.6,136.0V253.6M440.4,136.0V253.6" fill="none" stroke="#3c3c3c" stroke-width="1.3"/>
<path d="M249.6,136.5H440.4M249.6,253.1H440.4" fill="none" stroke="#3c3c3c" stroke-width="1.05"/>
<path d="M266.4,253.1v-3.6M266.4,136.3v3.6M299.8,253.1v-3.6M299.8,136.3v3.6M333.1,253.1v-3.6M333.1,136.3v3.6M366.5,253.1v-3.6M366.5,136.3v3.6M399.8,253.1v-3.6M399.8,136.3v3.6M433.2,253.1v-3.6M433.2,136.3v3.6M249.6,251.9h3.6M440.4,251.9h-3.6M249.6,213.3h3.6M440.4,213.3h-3.6M249.6,174.6h3.6M440.4,174.6h-3.6" stroke="#3c3c3c" stroke-width="1.15" fill="none"/>
<g clip-path="url(#c5)" fill="none" stroke-width="1.1" stroke-linejoin="round" stroke-linecap="butt">
<path d="M274.9,163.0L275.4,190.6L275.6,197.3L275.9,201.0L276.4,205.0L277.6,212.4L278.6,216.8L279.6,220.0L281.1,223.5L282.9,226.5L284.6,228.8L287.6,232.1L293.4,237.6L297.4,241.1L300.1,243.2L302.9,245.2L304.9,246.6L306.4,247.5L308.6,248.5L310.9,249.3L312.9,249.8L315.4,250.3L318.1,250.7L322.9,251.1L331.4,251.6L342.6,251.9L357.9,252.0L440.4,252.2" stroke="#ff0000"/>
<path d="M275.0,170.7L275.5,185.1L275.7,189.4L276.2,194.3L277.5,201.9L278.5,206.5L279.7,210.6L281.2,214.4L283.0,217.8L285.0,221.0L287.5,224.4L290.5,227.8L295.5,232.9L300.5,237.6L305.2,241.5L306.7,242.5L308.2,243.4L310.7,244.4L313.5,245.3L317.0,246.1L322.0,247.0L326.0,247.6L329.5,248.1L336.0,248.7L342.2,249.2L353.0,249.7L393.7,251.0L419.2,251.5L440.2,251.7" stroke="#ff8050"/>
<path d="M275.0,171.1L275.5,182.4L275.7,186.1L276.2,190.7L277.0,195.5L278.0,200.7L279.0,204.6L280.2,208.3L282.0,212.4L284.0,216.1L286.0,219.3L288.5,222.7L291.2,225.9L298.2,233.1L301.2,236.0L305.7,239.8L307.2,240.8L308.7,241.6L311.2,242.7L314.2,243.6L318.5,244.7L324.2,245.9L328.2,246.5L332.7,247.1L338.2,247.7L343.5,248.2L353.5,248.8L394.2,250.6L419.7,251.2L440.2,251.5" stroke="#ffc050"/>
<path d="M275.0,169.5L275.5,178.3L276.0,183.9L276.8,189.2L277.5,193.4L278.5,197.8L279.8,201.9L281.3,205.9L283.0,209.7L284.8,213.1L286.8,216.3L289.0,219.5L291.5,222.5L299.0,230.6L301.5,233.1L304.3,235.7L306.0,237.2L307.5,238.3L309.0,239.1L311.5,240.2L314.5,241.2L321.0,243.0L326.0,244.2L329.3,244.8L335.0,245.8L340.0,246.4L344.8,246.9L353.8,247.6L394.8,250.0L420.3,250.9L440.3,251.3" stroke="#c8c810"/>
<path d="M275.0,167.7L275.5,175.4L276.0,180.7L276.8,185.9L277.8,191.2L278.8,195.3L280.3,200.0L281.8,203.8L283.8,208.1L285.5,211.5L287.3,214.3L289.5,217.5L291.8,220.3L299.8,229.2L303.8,233.3L305.5,234.9L306.8,235.9L308.0,236.8L309.3,237.5L311.8,238.6L314.5,239.5L321.8,241.7L326.5,243.0L330.0,243.7L335.8,244.8L340.5,245.5L345.3,246.0L353.8,246.8L385.8,249.1L394.8,249.6L420.3,250.7L440.3,251.1" stroke="#60c810"/>
<path d="M275.1,165.8L275.6,172.7L276.3,179.6L277.1,184.4L278.1,189.2L279.1,193.0L280.6,197.6L282.3,202.0L284.6,206.9L286.1,209.7L287.8,212.6L289.8,215.5L292.1,218.3L295.3,222.0L300.1,227.6L304.1,231.7L306.8,234.3L308.1,235.1L309.6,236.0L311.8,237.0L314.8,238.1L322.6,240.6L327.3,242.0L331.3,242.9L336.6,243.9L341.3,244.7L345.8,245.2L353.8,246.0L366.8,247.0L386.1,248.7L395.1,249.3L420.6,250.4L430.8,250.8L440.3,250.9" stroke="#30f040"/>
<path d="M275.1,163.9L275.8,172.8L276.3,176.9L277.1,181.7L278.1,186.5L279.3,191.1L280.8,195.5L282.8,200.5L284.8,205.0L286.3,207.9L288.1,210.8L290.1,213.7L292.1,216.3L295.3,220.0L300.3,226.1L304.1,230.1L306.8,232.7L308.1,233.6L309.6,234.5L311.8,235.6L314.6,236.6L323.1,239.6L327.6,241.0L331.8,242.0L337.1,243.1L341.6,243.9L346.1,244.5L352.8,245.2L366.8,246.4L384.3,248.1L395.1,249.0L420.6,250.2L430.8,250.6L440.3,250.8" stroke="#20d0d0"/>
<path d="M275.1,161.0L275.9,169.2L276.4,173.3L277.1,178.1L278.1,182.7L279.6,188.1L281.1,192.6L283.6,198.9L285.6,203.3L287.9,207.4L290.6,211.6L292.1,213.6L295.6,217.7L300.1,223.5L303.9,227.7L306.1,230.0L307.9,231.5L309.9,232.7L311.9,233.7L314.4,234.7L323.4,238.1L327.9,239.6L332.4,240.8L337.4,242.0L342.1,242.9L346.6,243.6L352.9,244.3L366.9,245.7L384.6,247.6L395.1,248.5L407.9,249.3L420.6,250.0L430.9,250.4L440.4,250.6" stroke="#3030c0"/>
</g>
<rect x="360.7" y="138.4" width="74.5" height="14" fill="#fff"/>
<text x="434.2" y="148.7" font-size="11.55" text-anchor="end" fill="#0a0a0a">HB:Ni = 10:5.0</text>
<rect x="380.2" y="155.4" width="54.9" height="83.4" fill="#fff" stroke="#707070" stroke-width="0.9"/>
<path d="M382.70,161.60h16.3" stroke="#ff0000" stroke-width="1.7"/>
<text x="402.90" y="164.65" font-size="9" font-weight="bold" fill="#0a0a0a">1 min</text>
<path d="M382.70,171.82h16.3" stroke="#ff8050" stroke-width="1.7"/>
<text x="402.90" y="174.85" font-size="9" font-weight="bold" fill="#0a0a0a">5 min</text>
<path d="M382.70,182.04h16.3" stroke="#ffc050" stroke-width="1.7"/>
<text x="402.90" y="185.05" font-size="9" font-weight="bold" fill="#0a0a0a">10 min</text>
<path d="M382.70,192.26h16.3" stroke="#c8c810" stroke-width="1.7"/>
<text x="402.90" y="195.25" font-size="9" font-weight="bold" fill="#0a0a0a">20 min</text>
<path d="M382.70,202.48h16.3" stroke="#60c810" stroke-width="1.7"/>
<text x="402.90" y="205.45" font-size="9" font-weight="bold" fill="#0a0a0a">30 min</text>
<path d="M382.70,212.70h16.3" stroke="#30f040" stroke-width="1.7"/>
<text x="402.90" y="215.65" font-size="9" font-weight="bold" fill="#0a0a0a">60 min</text>
<path d="M382.70,222.92h16.3" stroke="#20d0d0" stroke-width="1.7"/>
<text x="402.90" y="225.85" font-size="9" font-weight="bold" fill="#0a0a0a">90 min</text>
<path d="M382.70,233.14h16.3" stroke="#3030c0" stroke-width="1.7"/>
<text x="402.90" y="236.05" font-size="9" font-weight="bold" fill="#0a0a0a">120 min</text>
</g>
<g>
<clipPath id="c6"><rect x="249.7" y="262.0" width="191.9" height="117.6"/></clipPath>
<path d="M250.2,261.7V379.5M441.0,261.7V379.5" fill="none" stroke="#3c3c3c" stroke-width="1.3"/>
<path d="M250.2,262.2H441.0M250.2,379.0H441.0" fill="none" stroke="#3c3c3c" stroke-width="1.05"/>
<path d="M267.0,379.0v-3.6M267.0,262.0v3.6M300.4,379.0v-3.6M300.4,262.0v3.6M333.7,379.0v-3.6M333.7,262.0v3.6M367.1,379.0v-3.6M367.1,262.0v3.6M400.4,379.0v-3.6M400.4,262.0v3.6M433.8,379.0v-3.6M433.8,262.0v3.6M250.2,377.9h3.6M441.0,377.9h-3.6M250.2,339.2h3.6M441.0,339.2h-3.6M250.2,300.6h3.6M441.0,300.6h-3.6" stroke="#3c3c3c" stroke-width="1.15" fill="none"/>
<g clip-path="url(#c6)" fill="none" stroke-width="1.1" stroke-linejoin="round" stroke-linecap="butt">
<path d="M275.2,273.0L275.9,286.1L276.4,293.1L277.9,311.0L279.2,324.1L279.9,329.7L280.7,333.9L281.7,338.1L282.9,342.4L284.4,346.5L286.2,350.3L288.2,353.8L290.2,356.6L291.2,357.7L292.2,358.6L295.9,361.5L300.7,365.6L303.9,368.1L305.9,369.5L307.9,370.6L309.7,371.4L311.2,371.8L313.4,372.2L327.7,373.9L338.7,375.0L345.4,375.6L361.7,376.4L394.4,377.4L419.2,377.9L440.9,378.2" stroke="#ff0000"/>
<path d="M275.2,273.0L276.0,285.7L276.5,292.6L278.0,310.0L279.2,322.5L280.0,327.8L281.0,333.1L282.0,337.2L283.2,341.5L284.7,345.6L286.5,349.4L288.5,352.9L290.5,355.6L292.2,357.4L296.0,360.4L300.7,364.6L304.0,367.2L306.0,368.6L308.0,369.7L309.7,370.5L311.2,370.9L313.5,371.3L328.5,373.3L338.7,374.5L345.7,375.1L362.2,376.0L391.7,377.0L418.2,377.8L441.0,378.1" stroke="#ff7020"/>
<path d="M275.2,273.0L276.0,284.9L276.7,294.6L278.0,308.2L279.2,319.5L280.0,324.5L281.2,330.9L282.5,336.0L283.7,340.1L285.2,344.2L286.7,347.4L288.7,350.9L290.7,353.7L292.5,355.6L296.0,358.6L300.7,363.0L304.0,365.6L306.2,367.2L308.2,368.3L309.7,369.0L311.5,369.5L314.0,370.0L324.0,371.6L329.5,372.3L339.2,373.5L347.2,374.3L363.5,375.3L390.0,376.5L417.5,377.4L441.0,377.9" stroke="#ffb040"/>
<path d="M275.2,272.8L276.0,284.3L276.8,293.8L277.8,304.4L279.0,315.3L280.0,321.8L281.5,329.3L282.8,334.4L284.2,339.3L285.5,342.7L287.2,346.4L289.0,349.5L291.0,352.3L292.8,354.2L296.0,357.1L300.5,361.4L303.8,364.1L306.2,365.9L308.2,367.1L310.0,367.8L311.8,368.3L314.2,368.9L325.0,370.7L330.8,371.6L340.2,372.9L348.8,373.7L364.5,374.9L389.5,376.1L417.2,377.2L441.0,377.8" stroke="#c8c820"/>
<path d="M275.3,272.6L276.0,283.8L277.0,295.9L278.0,305.7L279.0,313.6L280.0,319.7L281.8,328.4L283.0,333.5L284.5,338.4L285.8,341.7L287.5,345.4L289.3,348.4L291.3,351.2L293.0,353.2L295.8,355.7L300.5,360.4L303.8,363.2L306.3,365.0L308.3,366.1L310.0,366.9L312.0,367.5L314.5,368.0L325.5,370.1L331.3,371.0L340.5,372.3L349.8,373.3L365.3,374.5L389.3,375.9L416.8,377.0L440.8,377.7" stroke="#70c820"/>
<path d="M275.3,272.3L276.0,283.3L276.8,292.5L277.8,302.4L278.8,310.2L279.8,316.2L282.0,327.6L283.3,332.6L284.8,337.5L286.0,340.7L287.8,344.4L289.5,347.4L291.5,350.2L293.0,351.9L300.5,359.4L303.8,362.2L306.5,364.2L309.3,365.6L311.5,366.4L314.0,367.0L325.5,369.4L330.5,370.2L337.8,371.3L344.0,372.1L351.3,372.9L366.3,374.2L389.5,375.6L417.0,376.8L440.8,377.6" stroke="#10e010"/>
<path d="M275.3,272.0L276.0,282.8L276.8,291.8L277.5,299.2L278.5,306.9L279.5,312.9L282.0,325.6L283.5,331.7L285.0,336.6L286.3,339.8L288.0,343.4L289.8,346.4L291.8,349.2L293.3,350.9L300.5,358.4L303.8,361.2L306.5,363.2L309.3,364.7L311.8,365.6L326.5,368.8L331.8,369.8L338.5,370.8L344.8,371.6L352.3,372.5L360.0,373.2L367.5,373.9L389.5,375.3L417.0,376.6L440.8,377.5" stroke="#10d0d0"/>
<path d="M275.3,271.6L276.1,282.4L276.8,291.2L277.6,298.5L278.3,304.1L279.3,309.9L282.3,325.1L283.6,330.2L285.1,335.2L286.3,338.5L288.1,342.2L290.1,345.6L292.1,348.4L293.6,350.2L300.6,357.5L303.8,360.4L306.6,362.4L309.3,363.9L311.8,364.8L327.1,368.3L332.3,369.3L338.8,370.3L345.3,371.2L353.1,372.1L360.8,372.9L368.3,373.6L389.6,375.1L417.1,376.5L440.8,377.4" stroke="#1010f0"/>
</g>
<rect x="359.8" y="264.1" width="77.4" height="14" fill="#fff"/>
<text x="436.2" y="274.1" font-size="11.55" text-anchor="end" fill="#0a0a0a">HB:Ni = 100:10</text>
<rect x="380.4" y="281.1" width="55.7" height="83.6" fill="#fff" stroke="#707070" stroke-width="0.9"/>
<path d="M383.15,287.15h16.8" stroke="#ff0000" stroke-width="1.7"/>
<text x="403.70" y="290.15" font-size="9" font-weight="bold" fill="#0a0a0a">1 min</text>
<path d="M383.15,297.37h16.8" stroke="#ff7020" stroke-width="1.7"/>
<text x="403.70" y="300.35" font-size="9" font-weight="bold" fill="#0a0a0a">5 min</text>
<path d="M383.15,307.59h16.8" stroke="#ffb040" stroke-width="1.7"/>
<text x="403.70" y="310.55" font-size="9" font-weight="bold" fill="#0a0a0a">10 min</text>
<path d="M383.15,317.81h16.8" stroke="#c8c820" stroke-width="1.7"/>
<text x="403.70" y="320.75" font-size="9" font-weight="bold" fill="#0a0a0a">20 min</text>
<path d="M383.15,328.03h16.8" stroke="#70c820" stroke-width="1.7"/>
<text x="403.70" y="330.95" font-size="9" font-weight="bold" fill="#0a0a0a">30 min</text>
<path d="M383.15,338.25h16.8" stroke="#10e010" stroke-width="1.7"/>
<text x="403.70" y="341.15" font-size="9" font-weight="bold" fill="#0a0a0a">60 min</text>
<path d="M383.15,348.47h16.8" stroke="#10d0d0" stroke-width="1.7"/>
<text x="403.70" y="351.35" font-size="9" font-weight="bold" fill="#0a0a0a">90 min</text>
<path d="M383.15,358.69h16.8" stroke="#1010f0" stroke-width="1.7"/>
<text x="403.70" y="361.55" font-size="9" font-weight="bold" fill="#0a0a0a">120 min</text>
</g>
<g>
<clipPath id="c7"><rect x="249.1" y="388.0" width="192.1" height="118.1"/></clipPath>
<path d="M249.6,387.7V506.0M440.6,387.7V506.0" fill="none" stroke="#3c3c3c" stroke-width="1.3"/>
<path d="M249.6,388.2H440.6M249.6,505.5H440.6" fill="none" stroke="#3c3c3c" stroke-width="1.05"/>
<path d="M266.4,505.5v-3.6M266.4,388.0v3.6M299.8,505.5v-3.6M299.8,388.0v3.6M333.1,505.5v-3.6M333.1,388.0v3.6M366.5,505.5v-3.6M366.5,388.0v3.6M399.8,505.5v-3.6M399.8,388.0v3.6M433.2,505.5v-3.6M433.2,388.0v3.6M249.6,504.4h3.6M440.6,504.4h-3.6M249.6,465.7h3.6M440.6,465.7h-3.6M249.6,427.1h3.6M440.6,427.1h-3.6" stroke="#3c3c3c" stroke-width="1.15" fill="none"/>
<g clip-path="url(#c7)" fill="none" stroke-width="1.1" stroke-linejoin="round" stroke-linecap="butt">
<path d="M277.6,399.0L278.1,413.4L278.6,422.2L281.4,449.4L282.1,454.6L282.9,458.5L284.1,463.8L285.4,468.3L286.6,471.9L288.4,475.8L290.4,479.2L293.1,483.2L296.4,487.1L299.6,490.3L301.9,492.7L304.9,495.5L307.4,497.4L310.6,499.3L311.9,499.8L312.9,500.1L315.9,500.7L318.9,501.2L322.1,501.5L326.1,501.7L335.9,502.1L360.6,502.8L404.6,503.7L440.6,504.4" stroke="#ff0000"/>
<path d="M277.6,398.8L278.1,412.3L278.6,420.8L281.1,445.3L281.9,450.9L282.9,456.3L284.4,462.7L285.6,467.1L287.1,471.2L288.9,474.9L291.1,478.6L293.6,482.1L296.4,485.4L299.6,488.7L301.4,490.6L302.9,492.2L305.9,494.8L309.1,497.1L310.6,498.0L312.1,498.6L313.9,499.1L316.6,499.7L319.4,500.1L322.6,500.5L332.1,501.2L345.4,501.8L359.4,502.3L402.4,503.4L440.6,504.3" stroke="#ff7028"/>
<path d="M277.6,398.5L278.1,410.8L278.6,418.9L281.1,442.8L281.9,448.2L283.1,454.7L284.4,460.1L285.9,465.3L287.4,469.3L289.1,472.9L291.6,477.1L294.1,480.6L296.4,483.2L299.4,486.3L301.6,488.8L303.4,490.6L306.1,493.0L310.1,495.9L311.9,496.9L313.4,497.4L316.6,498.2L320.1,498.8L323.9,499.3L328.6,499.8L342.4,500.8L353.9,501.4L383.1,502.5L440.6,504.2" stroke="#ffb448"/>
<path d="M277.6,398.3L278.1,409.5L278.6,417.2L279.9,429.7L281.1,440.6L281.9,445.7L283.4,453.4L284.6,458.8L286.1,463.9L287.6,467.7L289.4,471.3L291.6,475.1L294.1,478.6L296.1,481.0L299.4,484.4L301.6,487.0L303.4,488.8L306.4,491.4L310.6,494.7L312.4,495.6L314.4,496.3L317.6,497.1L321.1,497.8L325.4,498.4L330.1,498.9L344.4,500.3L355.1,500.9L386.1,502.2L440.6,504.1" stroke="#c8c820"/>
<path d="M277.6,398.1L278.1,408.2L278.6,415.6L279.9,428.1L281.1,438.5L282.1,444.6L283.9,453.4L285.1,458.4L286.4,462.3L287.9,466.1L289.9,470.1L292.1,473.9L294.4,477.0L296.1,479.0L299.6,482.7L301.6,485.2L303.4,487.0L306.4,489.7L309.6,492.4L311.1,493.4L312.6,494.2L315.4,495.2L318.4,496.0L321.9,496.7L326.1,497.4L330.9,498.1L339.9,499.1L345.1,499.6L355.4,500.3L386.9,501.8L414.6,503.0L440.6,504.0" stroke="#70c820"/>
<path d="M277.6,397.9L278.1,406.9L278.9,416.8L279.9,426.6L280.9,434.6L281.9,440.8L284.1,452.1L285.1,456.1L286.6,460.8L288.1,464.5L290.1,468.5L292.1,471.9L294.4,475.0L296.1,477.1L299.4,480.6L301.6,483.3L303.1,484.9L305.1,486.8L309.1,490.3L311.4,492.1L312.9,492.9L315.9,494.0L318.9,494.8L322.6,495.6L326.9,496.4L331.4,497.2L340.4,498.4L345.4,499.0L355.4,499.7L386.9,501.4L414.6,502.8L440.6,503.9" stroke="#10e810"/>
<path d="M277.6,397.7L278.4,409.3L278.9,415.3L279.9,425.2L280.9,432.8L281.9,438.7L284.1,450.1L285.4,455.0L286.9,459.6L288.4,463.2L290.1,466.7L292.1,470.1L294.4,473.3L295.9,475.1L299.4,478.9L301.6,481.7L303.1,483.4L309.6,489.4L311.6,490.9L313.6,492.0L316.6,493.1L319.6,493.9L324.1,495.0L328.1,495.8L332.9,496.6L340.9,497.8L345.6,498.4L355.4,499.2L386.9,501.1L414.6,502.6L440.6,503.8" stroke="#10d0d0"/>
<path d="M277.6,397.5L278.4,408.1L279.1,416.7L279.9,423.9L280.6,429.6L281.4,434.1L284.1,448.3L285.4,453.2L286.9,457.8L288.4,461.5L290.4,465.5L292.4,468.9L294.4,471.8L295.9,473.6L299.1,477.1L301.6,480.3L302.9,481.7L309.9,488.3L311.9,489.9L313.9,490.9L316.9,492.1L320.1,493.0L324.9,494.2L329.9,495.3L337.6,496.7L342.4,497.4L345.9,497.9L355.4,498.7L387.1,500.8L414.6,502.4L440.6,503.8" stroke="#1020d0"/>
</g>
<text x="266.4" y="517.3" font-size="9.6" text-anchor="middle" fill="#0a0a0a">300</text>
<text x="299.8" y="517.3" font-size="9.6" text-anchor="middle" fill="#0a0a0a">400</text>
<text x="333.1" y="517.3" font-size="9.6" text-anchor="middle" fill="#0a0a0a">500</text>
<text x="366.5" y="517.3" font-size="9.6" text-anchor="middle" fill="#0a0a0a">600</text>
<text x="399.8" y="517.3" font-size="9.6" text-anchor="middle" fill="#0a0a0a">700</text>
<text x="433.2" y="517.3" font-size="9.6" text-anchor="middle" fill="#0a0a0a">800</text>
<rect x="359.8" y="390.1" width="77.4" height="14" fill="#fff"/>
<text x="436.2" y="400.1" font-size="11.55" text-anchor="end" fill="#0a0a0a">HB:Ni = 100:20</text>
<rect x="380.4" y="406.9" width="54.9" height="83.9" fill="#fff" stroke="#707070" stroke-width="0.9"/>
<path d="M382.95,413.15h16.6" stroke="#ff0000" stroke-width="1.7"/>
<text x="403.23" y="416.18" font-size="9" font-weight="bold" fill="#0a0a0a">1 min</text>
<path d="M382.95,423.37h16.6" stroke="#ff7028" stroke-width="1.7"/>
<text x="403.23" y="426.38" font-size="9" font-weight="bold" fill="#0a0a0a">5 min</text>
<path d="M382.95,433.59h16.6" stroke="#ffb448" stroke-width="1.7"/>
<text x="403.23" y="436.58" font-size="9" font-weight="bold" fill="#0a0a0a">10 min</text>
<path d="M382.95,443.81h16.6" stroke="#c8c820" stroke-width="1.7"/>
<text x="403.23" y="446.78" font-size="9" font-weight="bold" fill="#0a0a0a">20 min</text>
<path d="M382.95,454.03h16.6" stroke="#70c820" stroke-width="1.7"/>
<text x="403.23" y="456.98" font-size="9" font-weight="bold" fill="#0a0a0a">30 min</text>
<path d="M382.95,464.25h16.6" stroke="#10e810" stroke-width="1.7"/>
<text x="403.23" y="467.18" font-size="9" font-weight="bold" fill="#0a0a0a">60 min</text>
<path d="M382.95,474.47h16.6" stroke="#10d0d0" stroke-width="1.7"/>
<text x="403.23" y="477.38" font-size="9" font-weight="bold" fill="#0a0a0a">90 min</text>
<path d="M382.95,484.69h16.6" stroke="#1020d0" stroke-width="1.7"/>
<text x="403.23" y="487.58" font-size="9" font-weight="bold" fill="#0a0a0a">120 min</text>
</g>
<text x="243.5" y="540.4" font-size="15.3" text-anchor="middle" fill="#0a0a0a">Wavelength (nm)</text>
<text transform="translate(15.7,254.6) rotate(-90) scale(0.915,1)" font-size="16.6" text-anchor="middle" fill="#0a0a0a">Absorbance</text>
</svg>
</body></html>
